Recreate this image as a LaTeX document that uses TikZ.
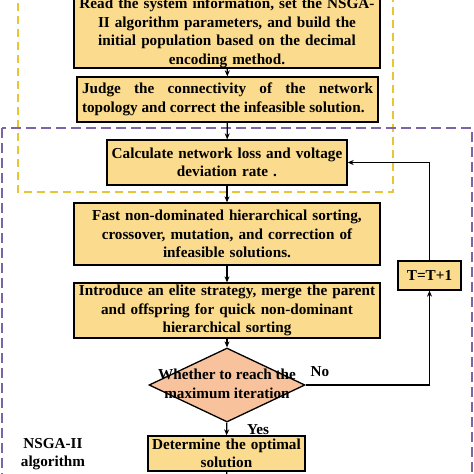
\documentclass[tikz,border=0pt]{standalone}
\usepackage{fontspec}
\setmainfont{Liberation Serif}
\usetikzlibrary{shapes.geometric,arrows.meta}
\definecolor{boxfill}{HTML}{FBDB8D}
\definecolor{diafill}{HTML}{F7C29C}
\definecolor{yframe}{HTML}{E6C636}
\definecolor{pframe}{HTML}{7D64A6}
\tikzset{
  every node/.style={font=\fontsize{15.2}{18.6}\selectfont\bfseries},
  stepbox/.style={draw=black, line width=1.3pt, fill=boxfill, inner xsep=3pt, inner ysep=0pt, align=center},
  decision/.style={diamond, draw=black, line width=1.3pt, fill=diafill, inner sep=0pt},
  flow/.style={line width=1.2pt, -{Stealth[length=6pt,width=5pt]}},
  plain/.style={inner sep=0pt},
}
\begin{document}
\begin{tikzpicture}[x=1pt,y=-1pt]
\useasboundingbox (0,0) rectangle (474,474);
% frames
\draw[yframe, line width=1.3pt, dash pattern=on 8pt off 5pt] (18,-10) rectangle (393,192);
\draw[pframe, line width=2pt, dash pattern=on 10pt off 5pt] (2,128) rectangle (472,500);
% nodes
\node[stepbox, minimum width=306pt, text width=300pt, minimum height=68pt] (b1) at (227,33)
  {Read the system information, set the NSGA-\\II algorithm parameters, and build the\\initial population based on the decimal\\encoding method.};
\node[stepbox, minimum width=301pt, text width=291pt, inner xsep=5pt, minimum height=45pt, align=justify] (b2) at (227.5,99.5)
  {\parfillskip=0pt Judge the connectivity of the network\linebreak topology and correct the infeasible solution.};
\node[stepbox, minimum width=240pt, text width=234pt, minimum height=45pt] (b3) at (227,162.5)
  {Calculate network loss and voltage\\deviation rate .};
\node[stepbox, minimum width=306pt, text width=300pt, minimum height=62pt] (b4) at (227,234)
  {Fast non-dominated hierarchical sorting,\\crossover, mutation, and correction of\\infeasible solutions.};
\node[stepbox, minimum width=306pt, text width=300pt, minimum height=55pt] (b5) at (227,310.5)
  {Introduce an elite strategy, merge the parent\\and offspring for quick non-dominant\\hierarchical sorting};
\node[decision, minimum width=156pt, minimum height=74pt] (d) at (227,385) {};
\node[plain, align=center] (dt) at (227,384) {Whether to reach the\\maximum iteration};
\node[plain] (yes) at (258,430) {Yes};
\node[stepbox, minimum width=157pt, text width=151pt, minimum height=35pt] (b6) at (226.5,453.5)
  {Determine the optimal\\solution};
\node[plain] (no) at (320,372) {No};
\node[stepbox, minimum width=63pt, minimum height=29pt, inner xsep=0pt] (t) at (429.5,275.5) {T=T+1};
\node[plain, align=center] (lab) at (53,454) {NSGA-II\\algorithm};
\coordinate (end) at (227,490);
% connectors
\draw[flow] (b1) -- (b2);
\draw[flow] (b2) -- (b3);
\draw[flow] (b3) -- (b4);
\draw[flow] (b4) -- (b5);
\draw[flow] (b5) -- (d);
\draw[flow] (d) -- (b6);
\draw[line width=1.2pt] (b6) -- (end);
\draw[flow] (d.east) -| (t.south);
\draw[flow] (t.north) |- (b3.east);
\end{tikzpicture}
\end{document}
